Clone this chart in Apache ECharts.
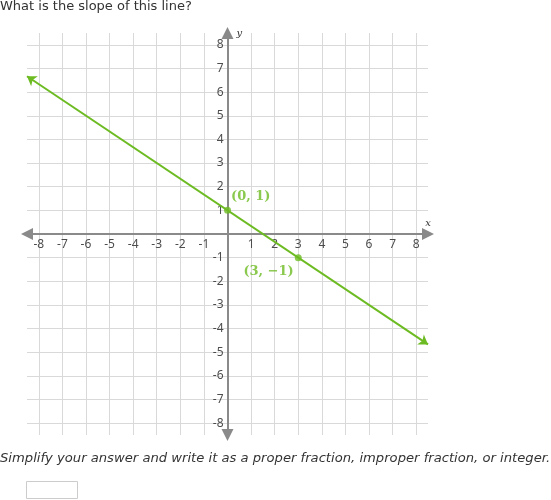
<!DOCTYPE html>
<html>
<head>
<meta charset="utf-8">
<script src="https://cdn.jsdelivr.net/npm/echarts@6.0.0/dist/echarts.min.js"></script>
<style>
  html, body {margin: 0; padding: 0; background: #fff;}
  #chart {width: 551px; height: 500px;}
</style>
</head>
<body>
<div id="chart"></div>
<script>
// axis range and ticks
var axisMin = -8.5;
var axisMax = 8.5;
var gridTicks = [-8, -7, -6, -5, -4, -3, -2, -1, 0, 1, 2, 3, 4, 5, 6, 7, 8];
var tickLabels = [-8, -7, -6, -5, -4, -3, -2, -1, 1, 2, 3, 4, 5, 6, 7, 8];

// the line (ends with arrows) and its two marked points
var lineX = [-8.5, 8.5];
var lineY = [6.67, -4.67];
var pointX = [0, 3];
var pointY = [1, -1];
var pointLabels = ['(0, 1)', '(3, \u22121)'];

var titleText = 'What is the slope of this line?';
var hintText = 'Simplify your answer and write it as a proper fraction, improper fraction, or integer.';

var green = '#6dbb22';
var axisColor = '#8a8a8a';

// plot box
var gridBox = {left: 27, right: 123, top: 33, bottom: 65};
var plotW = 551 - gridBox.left - gridBox.right;
var plotH = 500 - gridBox.top - gridBox.bottom;

function makeAxis(name, isX) {
    return {
        type: 'value',
        min: axisMin,
        max: axisMax,
        // axis sits in the middle of the box (zero is the centre), labels follow it
        offset: isX ? -plotH / 2 : -plotW / 2,
        name: name,
        nameLocation: 'end',
        nameGap: 0,
        nameTextStyle: isX
            ? {fontFamily: 'DejaVu Serif', fontStyle: 'italic', fontSize: 10, color: '#333',
               align: 'center', verticalAlign: 'bottom', padding: [0, 0, 6, 0]}
            : {fontFamily: 'DejaVu Serif', fontStyle: 'italic', fontSize: 10, color: '#333',
               align: 'left', verticalAlign: 'middle', padding: [0, 0, 0, 9]},
        axisLine: {
            onZero: false,
            symbol: ['triangle', 'triangle'],
            symbolSize: [12, 12],
            lineStyle: {color: axisColor, width: 2}
        },
        axisTick: {show: false, customValues: gridTicks},
        axisLabel: {
            customValues: tickLabels,
            color: '#4d4d4d',
            fontSize: 12,
            fontFamily: 'Noto Sans',
            margin: isX ? 5 : 4
        },
        splitLine: {show: true, lineStyle: {color: '#d9d9d9', width: 1}}
    };
}

var chart = echarts.init(document.getElementById('chart'));
chart.setOption({
    animation: false,
    backgroundColor: '#fff',
    grid: {left: gridBox.left, right: gridBox.right, top: gridBox.top, bottom: gridBox.bottom, containLabel: false},
    xAxis: makeAxis('x', true),
    yAxis: makeAxis('y', false),
    series: [{
        type: 'scatter',
        symbolSize: 7,
        itemStyle: {color: green},
        z: 5,
        data: pointX.map(function (x, i) {
            return {
                value: [x, pointY[i]],
                label: {
                    show: true,
                    formatter: pointLabels[i],
                    position: i === 0 ? 'right' : 'left',
                    distance: i === 0 ? 0 : 1,
                    offset: i === 0 ? [0, -14] : [0, 14],
                    color: green,
                    fontFamily: 'DejaVu Serif',
                    fontWeight: 'bold',
                    fontSize: 13
                }
            };
        }),
        markLine: {
            silent: true,
            symbol: ['arrow', 'arrow'],
            symbolSize: 9,
            label: {show: false},
            lineStyle: {color: green, width: 2, type: 'solid'},
            data: [[{coord: [lineX[0], lineY[0]]}, {coord: [lineX[1], lineY[1]]}]]
        }
    }],
    graphic: [
        {type: 'text', left: 0, top: 0,
         style: {text: titleText, fontFamily: 'DejaVu Sans', fontSize: 13, fill: '#333'}},
        {type: 'text', left: 0, top: 452,
         style: {text: hintText, fontFamily: 'DejaVu Sans', fontStyle: 'italic', fontSize: 13.15, fill: '#333'}},
        {type: 'rect', shape: {x: 26.5, y: 481.5, width: 51, height: 17},
         style: {fill: '#fff', stroke: '#ccc', lineWidth: 1}}
    ]
});
</script>
</body>
</html>
